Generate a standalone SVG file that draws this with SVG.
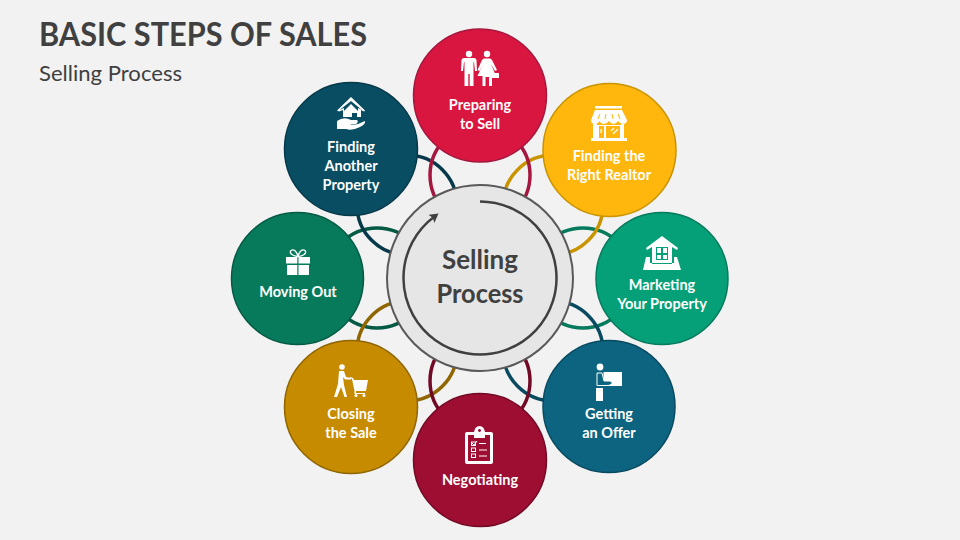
<svg xmlns="http://www.w3.org/2000/svg" width="960" height="540" viewBox="0 0 960 540">
<style>
.t{font-family:"Lato","Liberation Sans",sans-serif;font-weight:700}
.n{font-size:14.5px;fill:#fff;text-anchor:middle}
.r{fill:none;stroke-width:3.5}
.i{fill:#fff}
.c{stroke-width:1.5}
</style>
<defs><marker id="ah" markerUnits="userSpaceOnUse" markerWidth="12" markerHeight="12" refX="4" refY="5" orient="auto"><path d="M0 0L9 5L0 10L2 5Z" fill="#404040"/></marker></defs>
<rect width="960" height="540" fill="#f2f2f2"/>
<text class="t" x="39" y="46" font-size="32" fill="#404040" textLength="328" lengthAdjust="spacingAndGlyphs">BASIC STEPS OF SALES</text>
<text x="39" y="81" font-family="Lato,'Liberation Sans',sans-serif" font-size="21" fill="#404040" textLength="143" lengthAdjust="spacingAndGlyphs">Selling Process</text>
<g id="connectors">
<circle class="r" cx="583" cy="278" r="50" stroke="#067a5c"/>
<circle class="r" cx="377" cy="278" r="50" stroke="#055a44"/>
<circle class="r" cx="407" cy="205" r="50" stroke="#07394a"/>
<circle class="r" cx="553" cy="351" r="50" stroke="#094a60"/>
<circle class="r" cx="407" cy="351" r="50" stroke="#8f6600"/>
<circle class="r" cx="553" cy="205" r="50" stroke="#c99400"/>
<circle class="r" cx="480" cy="175" r="50" stroke="#a5173f"/>
<circle class="r" cx="480" cy="381" r="50" stroke="#730a25"/>
</g>
<g id="center">
<circle cx="480" cy="278" r="93" fill="#e6e6e6" stroke="#595959" stroke-width="2"/>
<path d="M480 201.5A76.5 76.5 0 1 1 434.5 216.5" fill="none" stroke="#404040" stroke-width="2.5" marker-end="url(#ah)"/>
<text class="t" x="442" y="269" font-size="27" fill="#404040" textLength="76" lengthAdjust="spacingAndGlyphs">Selling</text>
<text class="t" x="436.500" y="303" font-size="27" fill="#404040" textLength="87" lengthAdjust="spacingAndGlyphs">Process</text>
</g>
<g id="preparing">
<circle class="c" cx="480" cy="95.5" r="66.5" fill="#d9163f" stroke="#a5173f"/>
<g class="i"><circle cx="469" cy="54" r="3.2"/><path d="M464 58H474Q476 58 476.500 60L477 71H475L474 62H473.500V86H469.700V74H468.300V86H464.500V62H464L463 71H461L461.500 60Q462 58 464 58Z"/>
<circle cx="487" cy="54" r="3.2"/><path d="M484 58.500H490Q491 58.500 492 60L497 70L495 71L491 64L496 76H492V86H489V77H485.500V86H482.500V76H477.500L483 64L479.500 71L477.500 70L482 60Q483 58.500 484 58.500Z"/><path d="M491 73H499V78H492Z"/></g>
<text class="t n" x="480" y="110">Preparing</text><text class="t n" x="480" y="129">to Sell</text>
</g>
<g id="realtor">
<circle class="c" cx="609.5" cy="150" r="66.5" fill="#ffb60d" stroke="#c99400"/>
<g class="i"><rect x="595" y="106" width="27" height="2.5"/><path d="M595 110H622L627 120Q627 124 623 124Q620 124 618 121Q616 124 613.5 124Q611 124 609 121Q607 124 604 124Q601 124 599.5 121Q598 124 595 124Q591 124 591 120Z"/>
<path fill-rule="evenodd" d="M593 124H597V125H621V124H624V138H627V141H591V138H593ZM599 126V138H604V126ZM606 126V138H620V126Z"/></g>
<path d="M600 114L598 119M606 114L605 119M612 114L613 119M618 114L620 119" stroke="#ffb60d" stroke-width="1"/>
<path d="M611 131L614 128M613 134L618 129" stroke="#fff" stroke-width="1.2"/>
<rect x="600.5" y="129" width="1.3" height="4" fill="#fff"/>
<text class="t n" x="609" y="161">Finding the</text><text class="t n" x="609" y="180">Right Realtor</text>
</g>
<g id="marketing">
<circle class="c" cx="662" cy="278.5" r="66" fill="#05a077" stroke="#067a5c"/>
<path class="i" fill-rule="evenodd" d="M662 236L678 248L677 250L672 247V263H652V247L647 250L646 248ZM656 247V260H668V247ZM661 248V253H657V248ZM663 248H667V253H663ZM661 255V259H657V255ZM663 255H667V259H663Z"/>
<path class="i" d="M646 257H650V263H652V264H672V263H674V257H677L681 270H643Z"/>
<text class="t n" x="662" y="290">Marketing</text><text class="t n" x="662" y="309">Your Property</text>
</g>
<g id="offer">
<circle class="c" cx="609" cy="406.5" r="66" fill="#0c6480" stroke="#094a60"/>
<g class="i"><circle cx="600" cy="367" r="3.4"/><rect x="603.5" y="372" width="18.5" height="14"/><rect x="596" y="388" width="7" height="13"/></g>
<path d="M597 373H602L604 381H610Q613 382 612 384Q610 386 604 385.500H597Z" fill="#0c6480" stroke="#fff" stroke-width="1"/>
<text class="t n" x="609" y="419">Getting</text><text class="t n" x="609" y="438">an Offer</text>
</g>
<g id="negotiating">
<circle class="c" cx="480" cy="460" r="66.5" fill="#9e0d32" stroke="#730a25"/>
<path class="i" fill-rule="evenodd" d="M467 432H474Q475 426 479.500 426Q484 426 485 432H491Q493 432 493 434V462Q493 464 491 464H467Q465 464 465 462V434Q465 432 467 432ZM468 435V461H490V435H485V438H474V435ZM479.500 429A1.500 1.500 0 1 0 479.510 429Z"/>
<g fill="none" stroke="#fff" stroke-width="1"><rect x="471.500" y="442" width="4" height="3.500"/><rect x="471.500" y="448" width="4" height="3.500"/><rect x="471.500" y="454" width="4" height="3.500"/><path d="M479 443.500H486M479 450H487M479 456H487M472 443L474 445L477 441"/></g>
<text class="t n" x="480" y="485">Negotiating</text>
</g>
<g id="closing">
<circle class="c" cx="351" cy="407" r="66.5" fill="#c78b00" stroke="#8f6600"/>
<g class="i"><circle cx="342" cy="367" r="2.800"/><path d="M339 371H344L346 377L351 378V379.500L345 379.500L343 377L344 385L347 397H344.500L341 387L337 397H334L338 384Z"/><path d="M350 377L353 378L354 380H368L366 391H356V393H365V394H354.500V391L352 379L350 378Z"/><circle cx="356" cy="395.500" r="1.500"/><circle cx="364" cy="395.500" r="1.500"/></g>
<text class="t n" x="351" y="419">Closing</text><text class="t n" x="351" y="438">the Sale</text>
</g>
<g id="moving">
<circle class="c" cx="297.500" cy="278.500" r="66" fill="#067a5b" stroke="#055a44"/>
<g class="i"><rect x="286" y="257" width="11.300" height="6.500"/><rect x="298.500" y="257" width="11.500" height="6.500"/><rect x="287" y="265" width="10.300" height="10"/><rect x="298.500" y="265" width="10.500" height="10"/></g>
<path d="M298 256.500C292 256 289 253 291 250.500C294 248.500 297 252 298 256.500C299 252 302 248.500 305 250.500C307 253 304 256 298 256.500Z" fill="none" stroke="#fff" stroke-width="1.300"/>
<text class="t n" x="298" y="297">Moving Out</text>
</g>
<g id="another">
<circle class="c" cx="351" cy="149" r="66.500" fill="#094d62" stroke="#07394a"/>
<path class="i" fill-rule="evenodd" d="M351 97L365 110.500L364 111.500L361 110V117H357V113H352V117H343V110L339 111.500L337 110.500Z M351 101L339.500 110L344 108V111L351 104L358 111V108L362 110Z"/>
<path class="i" d="M337 121Q344 116 351 120H357Q359 122 356 124H350Q352 125 358 124L365 121Q366 124 360 127Q352 131 346 129H337Z"/>
<text class="t n" x="351" y="152">Finding</text><text class="t n" x="351" y="171">Another</text><text class="t n" x="351" y="190">Property</text>
</g>
</svg>
